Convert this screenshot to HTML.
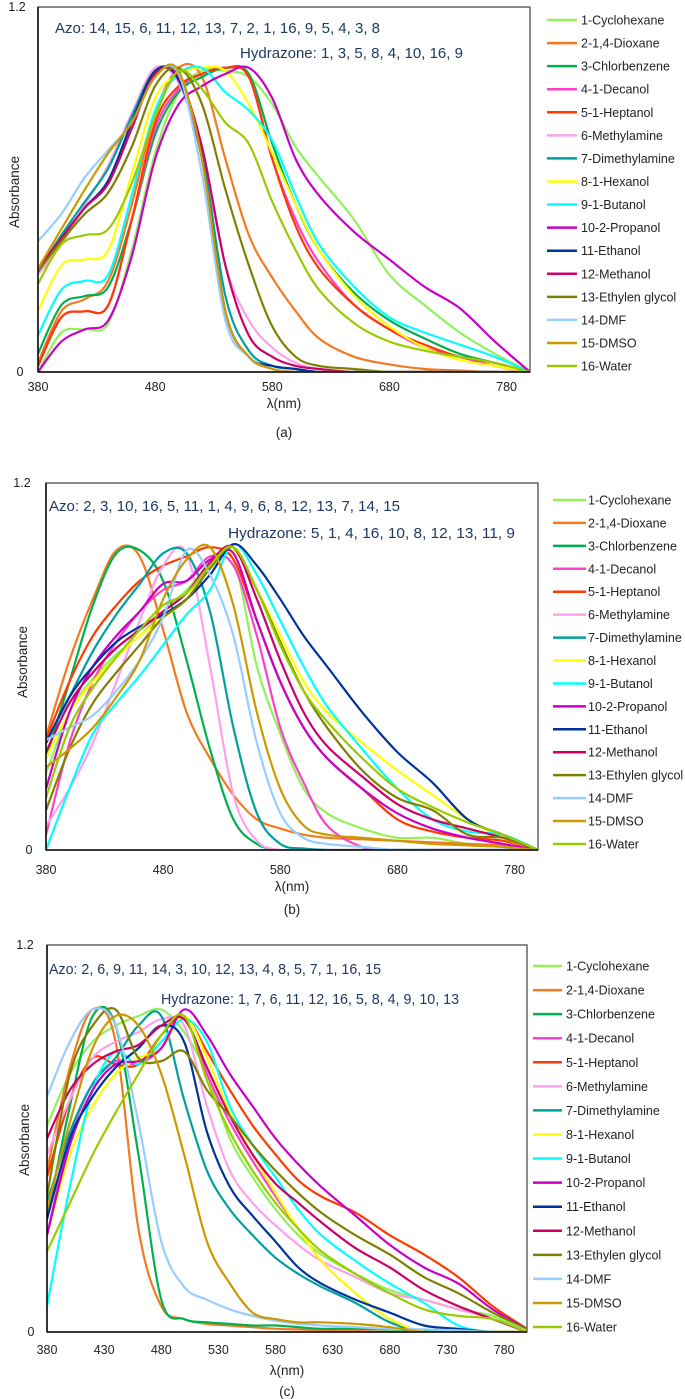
<!DOCTYPE html>
<html><head><meta charset="utf-8"><title>UV-Vis absorbance spectra</title>
<style>
html,body{margin:0;padding:0;background:#fff;}
svg{display:block;font-family:"Liberation Sans",sans-serif;}
</style></head>
<body>
<svg id="chart" width="685" height="1399" viewBox="0 0 685 1399" xmlns="http://www.w3.org/2000/svg"></svg>
<script>
const wavelengths = [380,400,420,440,460,480,500,520,540,560,580,600,620,650,680,710,740,770,800];
const seriesNames = ["1-Cyclohexane","2-1,4-Dioxane","3-Chlorbenzene","4-1-Decanol","5-1-Heptanol","6-Methylamine","7-Dimethylamine","8-1-Hexanol","9-1-Butanol","10-2-Propanol","11-Ethanol","12-Methanol","13-Ethylen glycol","14-DMF","15-DMSO","16-Water"];
const seriesColors = ["#92f05a","#f47a22","#00b050","#ff40c8","#ff3a00","#ffa0ee","#00a0a0","#ffff00","#00ffff","#c800c8","#00339a","#cc0066","#808000","#99ccff","#cc9900","#99cc00"];

// Panel (a)
const panelA = [
[0,0.13,0.14,0.16,0.4,0.72,0.92,0.99,0.99,0.97,0.88,0.74,0.64,0.5,0.32,0.22,0.13,0.06,0],
[0.03,0.2,0.24,0.3,0.55,0.85,1.0,0.97,0.7,0.45,0.31,0.2,0.11,0.05,0.025,0.01,0.005,0,0],
[0.06,0.22,0.25,0.28,0.5,0.78,0.92,0.97,1.0,0.98,0.75,0.55,0.4,0.26,0.17,0.11,0.06,0.03,0],
[0.02,0.18,0.2,0.22,0.5,0.8,0.93,0.98,1.0,0.97,0.7,0.5,0.36,0.22,0.14,0.08,0.05,0.02,0],
[0.02,0.18,0.2,0.22,0.5,0.82,0.94,0.98,1.0,0.97,0.7,0.48,0.34,0.22,0.14,0.09,0.05,0.03,0],
[0.32,0.42,0.55,0.68,0.85,1.0,0.95,0.72,0.35,0.17,0.08,0.03,0.01,0,0,0,0,0,0],
[0.33,0.45,0.56,0.67,0.84,0.99,0.97,0.72,0.25,0.07,0.02,0.01,0,0,0,0,0,0,0],
[0.2,0.35,0.37,0.4,0.65,0.9,0.98,1.0,0.99,0.88,0.72,0.55,0.4,0.25,0.15,0.08,0.04,0.02,0],
[0.12,0.27,0.3,0.32,0.58,0.86,0.98,1.0,0.92,0.86,0.76,0.58,0.42,0.28,0.18,0.13,0.09,0.05,0],
[0,0.1,0.14,0.17,0.38,0.7,0.88,0.94,0.98,1.0,0.9,0.7,0.58,0.46,0.37,0.28,0.21,0.1,0],
[0.33,0.44,0.54,0.63,0.82,0.99,0.96,0.7,0.2,0.05,0.02,0.01,0,0,0,0,0,0,0],
[0.34,0.44,0.54,0.62,0.8,0.98,0.97,0.74,0.35,0.12,0.05,0.02,0.01,0,0,0,0,0,0],
[0.33,0.43,0.52,0.59,0.74,0.94,1.0,0.88,0.6,0.35,0.15,0.05,0.02,0.01,0,0,0,0,0],
[0.43,0.52,0.64,0.73,0.82,0.97,0.98,0.65,0.17,0.05,0.01,0,0,0,0,0,0,0,0],
[0.34,0.47,0.6,0.72,0.82,0.97,0.99,0.7,0.2,0.05,0.01,0,0,0,0,0,0,0,0],
[0.29,0.42,0.45,0.47,0.62,0.84,0.99,0.93,0.82,0.75,0.56,0.4,0.27,0.16,0.1,0.07,0.05,0.03,0]
];
// Panel (b)
const panelB = [
[0.25,0.45,0.56,0.64,0.7,0.78,0.85,0.93,0.95,0.6,0.38,0.2,0.12,0.07,0.04,0.04,0.02,0.01,0],
[0.37,0.62,0.82,0.98,0.96,0.72,0.45,0.3,0.18,0.1,0.07,0.05,0.04,0.035,0.03,0.025,0.02,0.015,0],
[0.3,0.55,0.8,0.97,0.98,0.88,0.62,0.33,0.1,0.02,0,0,0,0,0,0,0,0,0],
[0.05,0.35,0.55,0.68,0.78,0.85,0.88,0.96,0.93,0.7,0.4,0.22,0.08,0.01,0,0,0,0,0],
[0.36,0.55,0.7,0.8,0.88,0.93,0.96,0.99,0.95,0.75,0.55,0.4,0.3,0.2,0.1,0.06,0.04,0.03,0],
[0.08,0.2,0.35,0.55,0.75,0.93,0.97,0.6,0.18,0.03,0,0,0,0,0,0,0,0,0],
[0.35,0.5,0.65,0.77,0.87,0.97,0.97,0.78,0.4,0.12,0.02,0.005,0,0,0,0,0,0,0],
[0.3,0.45,0.55,0.63,0.7,0.76,0.82,0.93,0.98,0.85,0.7,0.55,0.45,0.35,0.26,0.18,0.1,0.04,0],
[0,0.2,0.38,0.48,0.57,0.67,0.77,0.85,1.0,0.9,0.75,0.6,0.47,0.33,0.2,0.1,0.06,0.05,0],
[0.2,0.45,0.6,0.7,0.78,0.87,0.88,0.95,0.97,0.75,0.55,0.4,0.3,0.2,0.12,0.07,0.04,0.02,0],
[0.35,0.5,0.6,0.68,0.73,0.77,0.82,0.9,1.0,0.93,0.82,0.7,0.6,0.45,0.32,0.22,0.1,0.05,0],
[0.32,0.48,0.58,0.66,0.72,0.78,0.84,0.94,0.99,0.82,0.62,0.45,0.34,0.24,0.15,0.1,0.07,0.04,0],
[0.13,0.33,0.48,0.58,0.67,0.76,0.82,0.92,0.99,0.85,0.68,0.52,0.4,0.26,0.17,0.13,0.05,0.04,0],
[0.36,0.4,0.44,0.52,0.62,0.76,0.98,0.9,0.7,0.35,0.12,0.04,0.02,0.01,0,0,0,0,0],
[0.27,0.33,0.4,0.5,0.62,0.82,0.95,0.99,0.8,0.45,0.2,0.08,0.05,0.04,0.03,0.02,0.015,0.01,0],
[0.17,0.4,0.53,0.63,0.72,0.8,0.84,0.93,0.99,0.85,0.67,0.52,0.42,0.3,0.2,0.14,0.09,0.05,0]
];
// Panel (c)
const panelC = [
[0.64,0.8,0.9,0.95,0.98,1.0,0.93,0.8,0.6,0.48,0.38,0.3,0.24,0.18,0.13,0.1,0.07,0.05,0],
[0.5,0.82,1.0,0.9,0.32,0.08,0.04,0.025,0.02,0.015,0.01,0.008,0.005,0.003,0,0,0,0,0],
[0.35,0.7,0.98,0.95,0.55,0.1,0.04,0.03,0.025,0.02,0.02,0.015,0.01,0.01,0.008,0.005,0,0,0],
[0.3,0.6,0.77,0.84,0.83,0.88,0.97,0.8,0.65,0.53,0.42,0.32,0.22,0.12,0.04,0,0,0,0],
[0.48,0.72,0.85,0.83,0.83,0.92,0.98,0.87,0.75,0.64,0.55,0.47,0.42,0.37,0.3,0.24,0.17,0.08,0.01],
[0.55,0.72,0.85,0.9,0.93,0.97,0.95,0.7,0.5,0.4,0.33,0.27,0.22,0.17,0.12,0.1,0.07,0.04,0],
[0.4,0.62,0.77,0.85,0.95,0.98,0.72,0.5,0.38,0.3,0.23,0.18,0.14,0.09,0.03,0,0,0,0],
[0.3,0.55,0.7,0.8,0.85,0.88,0.98,0.85,0.68,0.55,0.43,0.32,0.22,0.12,0.04,0,0,0,0],
[0.08,0.45,0.75,0.87,0.83,0.9,0.97,0.9,0.7,0.58,0.48,0.38,0.3,0.22,0.15,0.09,0.02,0,0],
[0.3,0.58,0.75,0.83,0.84,0.88,1.0,0.92,0.8,0.7,0.6,0.52,0.45,0.36,0.27,0.2,0.15,0.07,0.01],
[0.35,0.6,0.73,0.82,0.88,0.95,0.9,0.62,0.45,0.36,0.28,0.2,0.15,0.1,0.06,0.02,0.01,0,0],
[0.6,0.75,0.83,0.87,0.89,0.95,0.97,0.82,0.67,0.55,0.46,0.4,0.34,0.26,0.2,0.13,0.08,0.04,0],
[0.42,0.8,0.95,1.0,0.85,0.84,0.87,0.75,0.67,0.58,0.5,0.43,0.37,0.3,0.24,0.17,0.12,0.06,0.01],
[0.73,0.9,1.0,0.95,0.65,0.28,0.14,0.1,0.07,0.05,0.035,0.025,0.02,0.015,0.01,0.008,0.005,0,0],
[0.38,0.65,0.88,0.98,0.95,0.8,0.55,0.28,0.15,0.06,0.04,0.03,0.03,0.025,0.015,0,0,0,0],
[0.25,0.4,0.55,0.68,0.8,0.92,0.98,0.78,0.62,0.5,0.4,0.32,0.25,0.18,0.12,0.07,0.05,0.04,0]
];
const xTicksAB = [380,480,580,680,780];
const xTicksC = [380,430,480,530,580,630,680,730,780];
const yTickLabels = ["0","1.2"];
const yTickValues = [0,1.2];

const svg = document.getElementById('chart');
const NS = 'http://www.w3.org/2000/svg';
function mk(tag, attrs, parent){
  const e = document.createElementNS(NS, tag);
  for (const k in attrs) e.setAttribute(k, attrs[k]);
  (parent||svg).appendChild(e);
  return e;
}
function smoothPath(pts){
  let d = 'M' + pts[0][0].toFixed(1) + ',' + pts[0][1].toFixed(1);
  for (let i=0;i<pts.length-1;i++){
    const p0 = pts[i-1]||pts[i], p1 = pts[i], p2 = pts[i+1], p3 = pts[i+2]||p2;
    const c1x = p1[0]+(p2[0]-p0[0])/6, c1y = p1[1]+(p2[1]-p0[1])/6;
    const c2x = p2[0]-(p3[0]-p1[0])/6, c2y = p2[1]-(p3[1]-p1[1])/6;
    d += ' C'+c1x.toFixed(1)+','+c1y.toFixed(1)+' '+c2x.toFixed(1)+','+c2y.toFixed(1)+' '+p2[0].toFixed(1)+','+p2[1].toFixed(1);
  }
  return d;
}
const panels = [
 {id:'a', data:panelA, L:38, R:530, T:7, B:372, ticks:xTicksAB, tickY:391, titleY:408, capY:437, ylabX:14, ylabY:192,
  ly0:20, lstep:23.07, lx1:547, lx2:577, ltx:581, y12x:17, y0x:20,
  azo:"Azo: 14, 15, 6, 11, 12, 13, 7, 2, 1, 16, 9, 5, 4, 3, 8", azoX:55, azoY:33, azoW:325,
  hyd:"Hydrazone: 1, 3, 5, 8, 4, 10, 16, 9", hydX:240, hydY:58, hydW:223},
 {id:'b', data:panelB, L:46, R:538, T:483, B:850, ticks:xTicksAB, tickY:874, titleY:891, capY:914, ylabX:22, ylabY:662,
  ly0:500, lstep:22.93, lx1:553, lx2:586, ltx:588, y12x:22, y0x:29,
  azo:"Azo: 2, 3, 10, 16, 5, 11, 1, 4, 9, 6, 8, 12, 13, 7, 14, 15", azoX:49, azoY:511, azoW:351,
  hyd:"Hydrazone:  5, 1, 4, 16, 10, 8, 12, 13, 11, 9", hydX:228, hydY:538, hydW:287},
 {id:'c', data:panelC, L:47, R:527, T:945, B:1332, ticks:xTicksC, tickY:1354, titleY:1375, capY:1396, ylabX:24, ylabY:1140,
  ly0:966, lstep:24.07, lx1:533, lx2:562, ltx:566, y12x:25, y0x:31,
  azo:"Azo: 2, 6, 9, 11, 14, 3, 10, 12, 13, 4, 8, 5, 7, 1, 16, 15", azoX:49, azoY:974, azoW:332,
  hyd:"Hydrazone: 1, 7, 6, 11, 12, 16, 5, 8, 4, 9, 10, 13", hydX:161, hydY:1004, hydW:298}
];
panels.forEach(p=>{
  const g = mk('g',{});
  
  
  const xs = nm => p.L + (nm-380)/(800-380)*(p.R-p.L);
  const ys = v => p.B - v/1.2*(p.B-p.T);
  const clip = mk('clipPath',{id:'clip-'+p.id},g);
  mk('rect',{x:p.L,y:p.T,width:p.R-p.L,height:p.B-p.T},clip);
  const frame = mk('rect',{x:p.L,y:p.T,width:p.R-p.L,height:p.B-p.T,fill:'#fff',stroke:'#404040','stroke-width':1.2},g);
  
  
  const lg = mk('g',{'clip-path':'url(#clip-'+p.id+')'},g);
  p.data.forEach((vals,i)=>{
    const pts = vals.map((v,j)=>[xs(wavelengths[j]), ys(v)]);
    const path = mk('path',{d:smoothPath(pts),fill:'none',stroke:seriesColors[i],'stroke-width':2.2,'stroke-linejoin':'round'},lg);
    
    
  });
  const ax = mk('line',{x1:p.L,y1:p.B,x2:p.R,y2:p.B,stroke:'#000','stroke-width':1.5},g);
  
  
  const ay = mk('line',{x1:p.L,y1:p.T,x2:p.L,y2:p.B,stroke:'#000','stroke-width':1.5},g);
  
  
  p.ticks.forEach(t=>{
    const tx = mk('text',{x:xs(t),y:p.tickY,'font-size':12.5,'text-anchor':'middle',fill:'#222'},g);
    tx.textContent = t;
    
    
  });
  yTickValues.forEach((v,k)=>{
    const ty = mk('text',{x:(v===0?p.y0x:p.y12x),y:ys(v)+4,'font-size':12.5,'text-anchor':'middle',fill:'#222'},g);
    ty.textContent = yTickLabels[k];
    
    
  });
  const xt = mk('text',{x:(p.L+p.R)/2,y:p.titleY,'font-size':13.5,'text-anchor':'middle',fill:'#222'},g);
  xt.textContent = 'λ(nm)';
  
  
  const cap = mk('text',{x:(p.L+p.R)/2,y:p.capY,'font-size':13.5,'text-anchor':'middle',fill:'#222'},g);
  cap.textContent = '('+p.id+')';
  
  
  const yt = mk('text',{x:p.ylabX,y:p.ylabY,'font-size':13.5,'text-anchor':'middle',fill:'#222',transform:'rotate(-90 '+p.ylabX+' '+p.ylabY+')','dy':'5'},g);
  yt.textContent = 'Absorbance';
  
  
  const az = mk('text',{x:p.azoX,y:p.azoY,'font-size':15,fill:'#1f3864',textLength:p.azoW,lengthAdjust:'spacingAndGlyphs'},g);
  az.textContent = p.azo;
  
  
  const hz = mk('text',{x:p.hydX,y:p.hydY,'font-size':15,fill:'#1f3864',textLength:p.hydW,lengthAdjust:'spacingAndGlyphs'},g);
  hz.textContent = p.hyd;
  
  
  const leg = mk('g',{},g);
  
  
  seriesNames.forEach((n,i)=>{
    const y = p.ly0 + i*p.lstep;
    const en = mk('g',{},leg);
    
    
    mk('line',{x1:p.lx1,y1:y,x2:p.lx2,y2:y,stroke:seriesColors[i],'stroke-width':2.5},en);
    const t = mk('text',{x:p.ltx,y:y+4.5,'font-size':12.5,fill:'#222'},en);
    t.textContent = n;
  });
});
</script>
</body></html>
